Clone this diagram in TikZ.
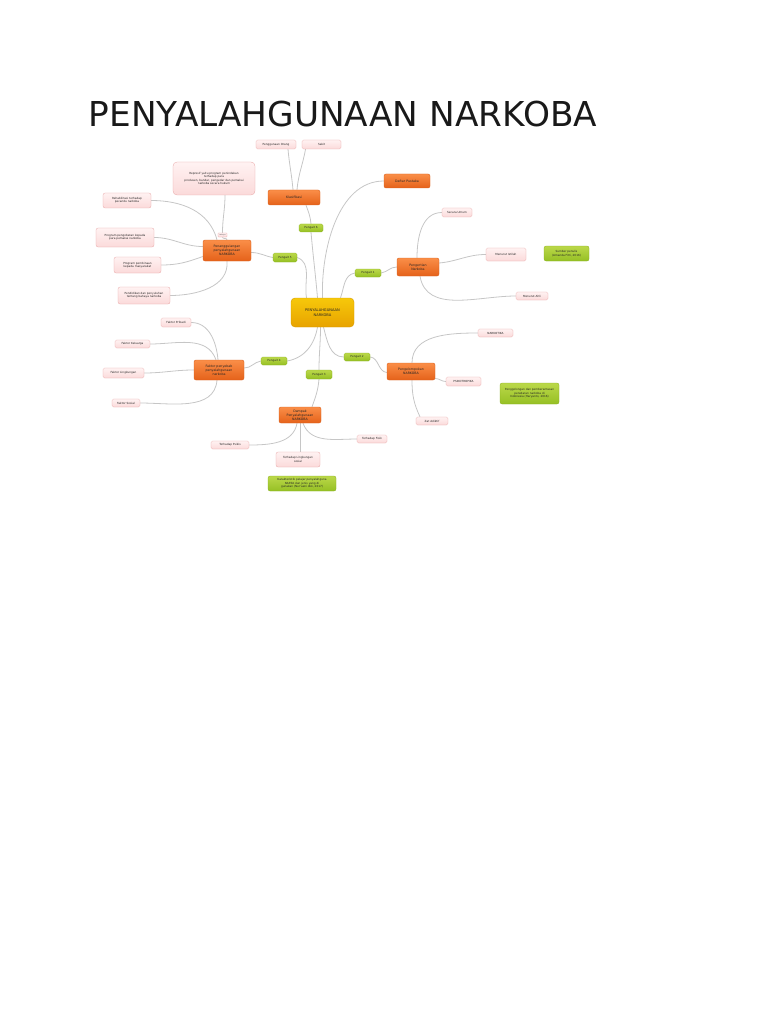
\documentclass[tikz,border=0pt]{standalone}
\usepackage{fontspec}
\setmainfont{DejaVu Sans}
\usetikzlibrary{backgrounds}
\definecolor{conncol}{HTML}{C6C6C6}
\definecolor{orTop}{HTML}{FA8E48}
\definecolor{orBot}{HTML}{E5621A}
\definecolor{orLine}{HTML}{D9601E}
\definecolor{ceTop}{HTML}{F6C80A}
\definecolor{ceBot}{HTML}{E8A300}
\definecolor{ceLine}{HTML}{D69A00}
\definecolor{grTop}{HTML}{BBD84A}
\definecolor{grBot}{HTML}{96C024}
\definecolor{grLine}{HTML}{88AE1E}
\definecolor{pkTop}{HTML}{FFF2F2}
\definecolor{pkBot}{HTML}{FBDADA}
\definecolor{pkLine}{HTML}{E6A3A3}
\tikzset{
  x=1pt, y=1pt,
  basebox/.style={rounded corners=2pt, align=center, inner sep=0pt, text=black!85},
  orangebox/.style={basebox, top color=orTop, bottom color=orBot, draw=orLine, line width=0.4pt,
     font=\fontsize{3.2}{3.9}\selectfont},
  centerbox/.style={basebox, rounded corners=4pt, top color=ceTop, bottom color=ceBot, draw=ceLine, line width=0.4pt,
     font=\fontsize{3.6}{4.4}\selectfont},
  greenbox/.style={basebox, rounded corners=1.5pt, top color=grTop, bottom color=grBot, draw=grLine, line width=0.3pt,
     font=\fontsize{2.8}{3.4}\selectfont},
  pinkbox/.style={basebox, rounded corners=1.5pt, top color=pkTop, bottom color=pkBot, draw=pkLine, line width=0.3pt,
     font=\fontsize{2.8}{3.4}\selectfont},
  conn/.style={draw=conncol, line width=0.8pt},
  titletext/.style={inner sep=0pt, anchor=base west, font=\fontsize{34.3}{40}\selectfont, text=black!90}
}
\begin{document}
\begin{tikzpicture}
\useasboundingbox (0,0) rectangle (768,-1024);
% title
\node[titletext] (title) at (88.5,-127) {PENYALAHGUNAAN NARKOBA};

% central
\node[centerbox, minimum width=63, minimum height=29] (central) at (322.5,-312.5) {PENYALAHGUNAAN\\NARKOBA};

% orange main topics
\node[orangebox, minimum width=48, minimum height=21] (penang) at (227,-250.5) {Penanggulangan\\penyalahgunaan\\NARKOBA};
\node[orangebox, minimum width=52, minimum height=15] (klas) at (294,-197.5) {Klasifikasi};
\node[orangebox, minimum width=46, minimum height=14] (daftar) at (407,-181) {Daftar Pustaka};
\node[orangebox, minimum width=42, minimum height=18] (pengert) at (418,-267) {Pengertian\\Narkoba};
\node[orangebox, minimum width=50, minimum height=20] (faktor) at (219,-370) {Faktor penyebab\\penyalahgunaan\\narkoba};
\node[orangebox, minimum width=48, minimum height=17] (pengel) at (411,-371.5) {Pengelompokan\\NARKOBA};
\node[orangebox, minimum width=42, minimum height=16] (dampak) at (300,-415) {Dampak\\Penyalahgunaan\\NARKOBA};

% green link labels
\node[greenbox, minimum width=24, minimum height=8] (p6) at (311,-228) {Pengait 6};
\node[greenbox, minimum width=24, minimum height=9] (p5) at (285,-257.5) {Pengait 5};
\node[greenbox, minimum width=26, minimum height=8] (p1) at (368,-273) {Pengait 1};
\node[greenbox, minimum width=26, minimum height=8] (p4) at (274,-361) {Pengait 4};
\node[greenbox, minimum width=26, minimum height=8] (p2) at (357,-357) {Pengait 2};
\node[greenbox, minimum width=26, minimum height=9] (p3) at (319,-374.5) {Pengait 3};

% green source notes
\node[greenbox, rounded corners=2pt, minimum width=45, minimum height=15] (g1) at (566.5,-253.5) {Sumber penulis\\(Amanda Fitri, 2016)};
\node[greenbox, rounded corners=2pt, minimum width=59, minimum height=21] (g2) at (529.5,-393.5) {Penggolongan dan pemberantasan\\peredaran narkoba di\\Indonesia (Haryanto, 2016)};
\node[greenbox, rounded corners=2pt, minimum width=68, minimum height=15] (g3) at (302,-483.5) {Karakteristik pelajar penyalahguna\\NAPZA dan jenis yang di\\gunakan (Nur'aeni dkk, 2017)};

% pink leaves
\node[pinkbox, minimum width=40, minimum height=9] (orang) at (276,-144.5) {Penggunaan Orang};
\node[pinkbox, minimum width=39, minimum height=9] (sakit) at (321.5,-144.5) {Sakit};
\node[pinkbox, rounded corners=4pt, minimum width=82, minimum height=33] (represif) at (214,-178.5) {Represif yaitu program penindakan\\terhadap para\\produsen, bandar, pengedar dan pemakai\\narkoba secara hukum};
\node[pinkbox, rounded corners=0.5pt, minimum width=9, minimum height=4, font=\fontsize{1.5}{1.8}\selectfont] (tag) at (222.5,-235) {Lainnya};
\node[pinkbox, rounded corners=2pt, minimum width=48, minimum height=15] (rehab) at (127,-200.5) {Rehabilitasi terhadap\\pecandu narkoba};
\node[pinkbox, rounded corners=2pt, minimum width=58, minimum height=19] (obat) at (125,-237.5) {Program pengobatan kepada\\para pemakai narkoba};
\node[pinkbox, rounded corners=2pt, minimum width=47, minimum height=16] (bina) at (137.5,-265) {Program pembinaan\\kepada masyarakat};
\node[pinkbox, rounded corners=2pt, minimum width=52, minimum height=17] (didik) at (144,-295.5) {Pendidikan dan penyuluhan\\tentang bahaya narkoba};
\node[pinkbox, minimum width=30, minimum height=9] (umum) at (457,-212.5) {Secara Umum};
\node[pinkbox, minimum width=40, minimum height=13] (istilah) at (506,-254.5) {Menurut Istilah};
\node[pinkbox, minimum width=32, minimum height=8] (ahli) at (532,-296) {Menurut Ahli};
\node[pinkbox, minimum width=35, minimum height=8] (narkotika) at (495.5,-333) {NARKOTIKA};
\node[pinkbox, minimum width=35, minimum height=9] (psiko) at (463.5,-381.5) {PSIKOTROPIKA};
\node[pinkbox, minimum width=32, minimum height=8] (zat) at (432,-421) {Zat Adiktif};
\node[pinkbox, minimum width=30, minimum height=9] (pribadi) at (176,-322.5) {Faktor Pribadi};
\node[pinkbox, minimum width=35, minimum height=8] (keluarga) at (132.5,-344) {Faktor Keluarga};
\node[pinkbox, minimum width=41, minimum height=10] (lingk) at (123.5,-373) {Faktor Lingkungan};
\node[pinkbox, minimum width=28, minimum height=8] (sosial) at (126,-403) {Faktor Sosial};
\node[pinkbox, minimum width=38, minimum height=8] (psikis) at (230,-445) {Terhadap Psikis};
\node[pinkbox, rounded corners=2pt, minimum width=44, minimum height=15] (tlingk) at (298,-459.5) {Terhadap Lingkungan\\sosial};
\node[pinkbox, minimum width=30, minimum height=8] (fisik) at (372,-439) {Terhadap Fisik};

% connectors
\begin{scope}[on background layer]
  % Klasifikasi branch
  \draw[conn] ([xshift=-5]central.north) to[out=95,in=-85] (p6.south);
  \draw[conn] (p6.north) to[out=95,in=-70] ([xshift=12]klas.south);
  \draw[conn] ([xshift=-1]klas.north) to[out=95,in=-85] ([xshift=12]orang.south);
  \draw[conn] ([xshift=3]klas.north) to[out=85,in=-100] ([xshift=-16]sakit.south);
  % Daftar Pustaka
  \draw[conn] (central.north) to[out=92,in=180,looseness=0.9] (daftar.west);
  % Pengertian branch
  \draw[conn] ([xshift=18]central.north) to[out=70,in=190] (p1.west);
  \draw[conn] (p1.east) to[out=10,in=180] (pengert.west);
  \draw[conn] ([xshift=-1]pengert.north) to[out=90,in=180] (umum.west);
  \draw[conn] ([yshift=4]pengert.east) to[out=5,in=180] (istilah.west);
  \draw[conn] ([xshift=2]pengert.south) to[out=-80,in=180] (ahli.west);
  % Penanggulangan branch
  \draw[conn] ([xshift=-16]central.north) to[out=100,in=-20] (p5.east);
  \draw[conn] (p5.west) to[out=170,in=0] ([yshift=-2]penang.east);
  \draw[conn] ([xshift=11]represif.south) to[out=-90,in=90] (tag.north);
  \draw[conn] (tag.south) to[out=-90,in=90] (penang.north);
  \draw[conn] (rehab.east) to[out=0,in=105] ([xshift=-10]penang.north);
  \draw[conn] (obat.east) to[out=0,in=180] ([yshift=4]penang.west);
  \draw[conn] (bina.east) to[out=0,in=200] ([yshift=-6]penang.west);
  \draw[conn] (didik.east) to[out=0,in=-85] (penang.south);
  % Faktor branch
  \draw[conn] ([xshift=-5]central.south) to[out=-100,in=10] (p4.east);
  \draw[conn] (p4.west) to[out=190,in=0] ([yshift=2]faktor.east);
  \draw[conn] (pribadi.east) to[out=0,in=95] ([xshift=-1]faktor.north);
  \draw[conn] (keluarga.east) to[out=0,in=110] ([xshift=-3]faktor.north);
  \draw[conn] (lingk.east) to[out=0,in=180] (faktor.west);
  \draw[conn] (sosial.east) to[out=0,in=-95] ([xshift=-2]faktor.south);
  % Dampak branch
  \draw[conn] ([xshift=-2]central.south) to[out=-90,in=90] (p3.north);
  \draw[conn] (p3.south) to[out=-95,in=70] ([xshift=12]dampak.north);
  \draw[conn] ([xshift=-3]dampak.south) to[out=-100,in=0] (psikis.east);
  \draw[conn] (dampak.south) -- (dampak.south |- tlingk.north);
  \draw[conn] ([xshift=3]dampak.south) to[out=-70,in=180] (fisik.west);
  % Pengelompokan branch
  \draw[conn] ([xshift=1]central.south) to[out=-75,in=180] (p2.west);
  \draw[conn] (p2.east) to[out=-5,in=175] ([yshift=-1]pengel.west);
  \draw[conn] ([xshift=1]pengel.north) to[out=90,in=180] (narkotika.west);
  \draw[conn] ([yshift=-7]pengel.east) to[out=0,in=180] (psiko.west);
  \draw[conn] ([xshift=1]pengel.south) to[out=-90,in=115] ([xshift=-12]zat.north);
\end{scope}
\end{tikzpicture}
\end{document}
